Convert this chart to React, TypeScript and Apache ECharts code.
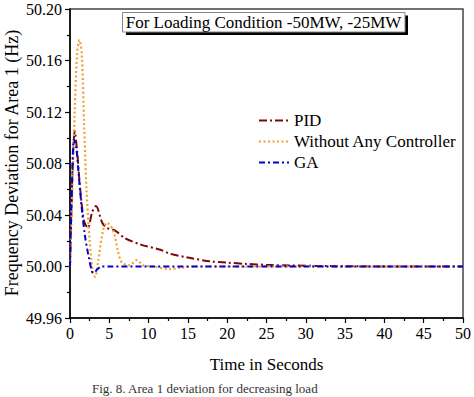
import React, { useEffect, useRef } from "react";
import * as echarts from "echarts";

const seriesNames = ["PID", "Without Any Controller", "GA"];

const pidTime = [0, 0.3, 0.6, 0.9, 1.3, 1.8, 2.3, 2.8, 3.3, 4.1, 4.7, 5.7, 7.0, 9.0, 11.5, 12.7, 15, 17.8, 20, 22.5, 25, 28, 32, 36, 40, 45, 50];
const pidFreq = [50.0, 50.07, 50.105, 50.09, 50.06, 50.035, 50.03, 50.042, 50.047, 50.034, 50.03, 50.028, 50.022, 50.017, 50.013, 50.01, 50.007, 50.004, 50.003, 50.002, 50.0013, 50.0008, 50.0004, 50.0002, 50.0, 50.0, 50.0];

const noCtrlTime = [0, 0.3, 0.6, 0.9, 1.2, 1.5, 1.8, 2.1, 2.5, 2.9, 3.2, 3.6, 4.2, 4.7, 5.5, 6.1, 6.6, 7.6, 8.5, 9.3, 10.5, 12.7, 14, 16, 20, 25, 30, 35, 40, 45, 50];
const noCtrlFreq = [50.0, 50.06, 50.12, 50.165, 50.176, 50.165, 50.11, 50.06, 50.02, 49.996, 49.992, 50.005, 50.028, 50.034, 50.028, 50.012, 50.003, 50.001, 50.005, 50.001, 50.0, 49.998, 49.999, 50.0, 50.0, 50.0, 50.0, 50.0, 50.0, 50.0, 50.0];

const gaTime = [0, 0.2, 0.5, 0.8, 1.1, 1.5, 1.9, 2.3, 2.8, 3.0, 3.5, 4.0, 5, 10, 20, 30, 40, 50];
const gaFreq = [50.0, 50.05, 50.099, 50.092, 50.072, 50.045, 50.024, 50.01, 49.996, 49.995, 49.998, 50.0, 50.0, 50.0, 50.0, 50.0, 50.0, 50.0];

const seriesColors = ["#7a0a0a", "#f0a030", "#0000cc"];

const titleText = "For Loading Condition -50MW, -25MW";
const xAxisName = "Time in Seconds";
const yAxisName = "Frequency Deviation for Area 1 (Hz)";
const captionText = "Fig. 8. Area 1 deviation for decreasing load";

const FONT = "Liberation Serif, serif";

export default function App() {
  const ref = useRef<HTMLDivElement>(null);
  useEffect(() => {
    if (!ref.current) return;
    const chart = echarts.init(ref.current, null, { renderer: "svg" });
    const pairs = (t: number[], f: number[]) => t.map((x, i) => [x, f[i]]);
    chart.setOption({
      animation: false,
      backgroundColor: "#ffffff",
      textStyle: { fontFamily: FONT, color: "#000" },
      grid: {
        left: 70,
        right: 11,
        top: 9,
        bottom: 79,
        show: true,
        borderColor: "#444",
        borderWidth: 1.5,
        containLabel: false,
        outerBoundsMode: "none",
      },
      legend: {
        orient: "vertical",
        left: 253,
        top: 107,
        itemWidth: 30,
        itemHeight: 12,
        itemGap: 4,
        itemStyle: { opacity: 0 },
        textStyle: { fontFamily: FONT, fontSize: 17, color: "#000" },
        data: seriesNames,
      },
      xAxis: {
        type: "value",
        min: 0,
        max: 50,
        interval: 5,
        name: xAxisName,
        nameLocation: "middle",
        nameGap: 38,
        nameTextStyle: { fontFamily: FONT, fontSize: 17, color: "#000" },
        axisLine: { show: true, lineStyle: { color: "#000", width: 1.5 } },
        axisTick: { show: true, inside: false, length: 5, lineStyle: { color: "#000", width: 1.2 } },
        minorTick: { show: true, splitNumber: 2, length: 3, lineStyle: { color: "#000", width: 1.2 } },
        axisLabel: { fontFamily: FONT, fontSize: 16, color: "#000", margin: 7 },
        splitLine: { show: false },
      },
      yAxis: {
        type: "value",
        min: 49.96,
        max: 50.2,
        interval: 0.04,
        axisLine: { show: true, lineStyle: { color: "#000", width: 1.5 } },
        axisTick: { show: true, inside: false, length: 5, lineStyle: { color: "#000", width: 1.2 } },
        minorTick: { show: true, splitNumber: 2, length: 3, lineStyle: { color: "#000", width: 1.2 } },
        axisLabel: {
          fontFamily: FONT,
          fontSize: 16,
          color: "#000",
          margin: 8,
          formatter: (v: number) => v.toFixed(2),
        },
        splitLine: { show: false },
      },
      series: [
        {
          name: seriesNames[0],
          type: "line",
          data: pairs(pidTime, pidFreq),
          symbol: "none",
          smooth: 0.3,
          color: seriesColors[0],
          lineStyle: { color: seriesColors[0], width: 2, type: [8, 3, 2, 3] },
        },
        {
          name: seriesNames[1],
          type: "line",
          data: pairs(noCtrlTime, noCtrlFreq),
          symbol: "none",
          smooth: 0.3,
          color: seriesColors[1],
          lineStyle: { color: seriesColors[1], width: 2.2, type: [2, 2.5] },
        },
        {
          name: seriesNames[2],
          type: "line",
          data: pairs(gaTime, gaFreq),
          symbol: "none",
          smooth: 0.3,
          color: seriesColors[2],
          lineStyle: { color: seriesColors[2], width: 2, type: [6, 3, 2, 3] },
        },
      ],
      graphic: [
        {
          type: "text",
          x: 12,
          y: 163,
          rotation: Math.PI / 2,
          style: {
            text: yAxisName,
            font: `18px ${FONT}`,
            fill: "#000",
            textAlign: "center",
            textVerticalAlign: "middle",
          },
          z: 12,
        },
        {
          type: "rect",
          shape: { x: 126, y: 15.5, width: 282, height: 19.5 },
          style: { fill: "#000" },
          z: 10,
        },
        {
          type: "rect",
          shape: { x: 122.5, y: 12.5, width: 282.5, height: 19.5 },
          style: { fill: "#fff", stroke: "#888", lineWidth: 1 },
          z: 11,
        },
        {
          type: "text",
          x: 263.5,
          y: 22.5,
          style: {
            text: titleText,
            font: `17px ${FONT}`,
            fill: "#000",
            textAlign: "center",
            textVerticalAlign: "middle",
          },
          z: 12,
        },
        {
          type: "text",
          x: 92,
          y: 382,
          style: {
            text: captionText,
            font: `13px ${FONT}`,
            fill: "#333",
            textAlign: "left",
            textVerticalAlign: "top",
          },
          z: 12,
        },
      ],
    });
    return () => chart.dispose();
  }, []);
  return (
    <div
      ref={ref}
      style={{ position: "fixed", left: 0, top: 0, width: 474, height: 397, background: "#fff" }}
    />
  );
}
